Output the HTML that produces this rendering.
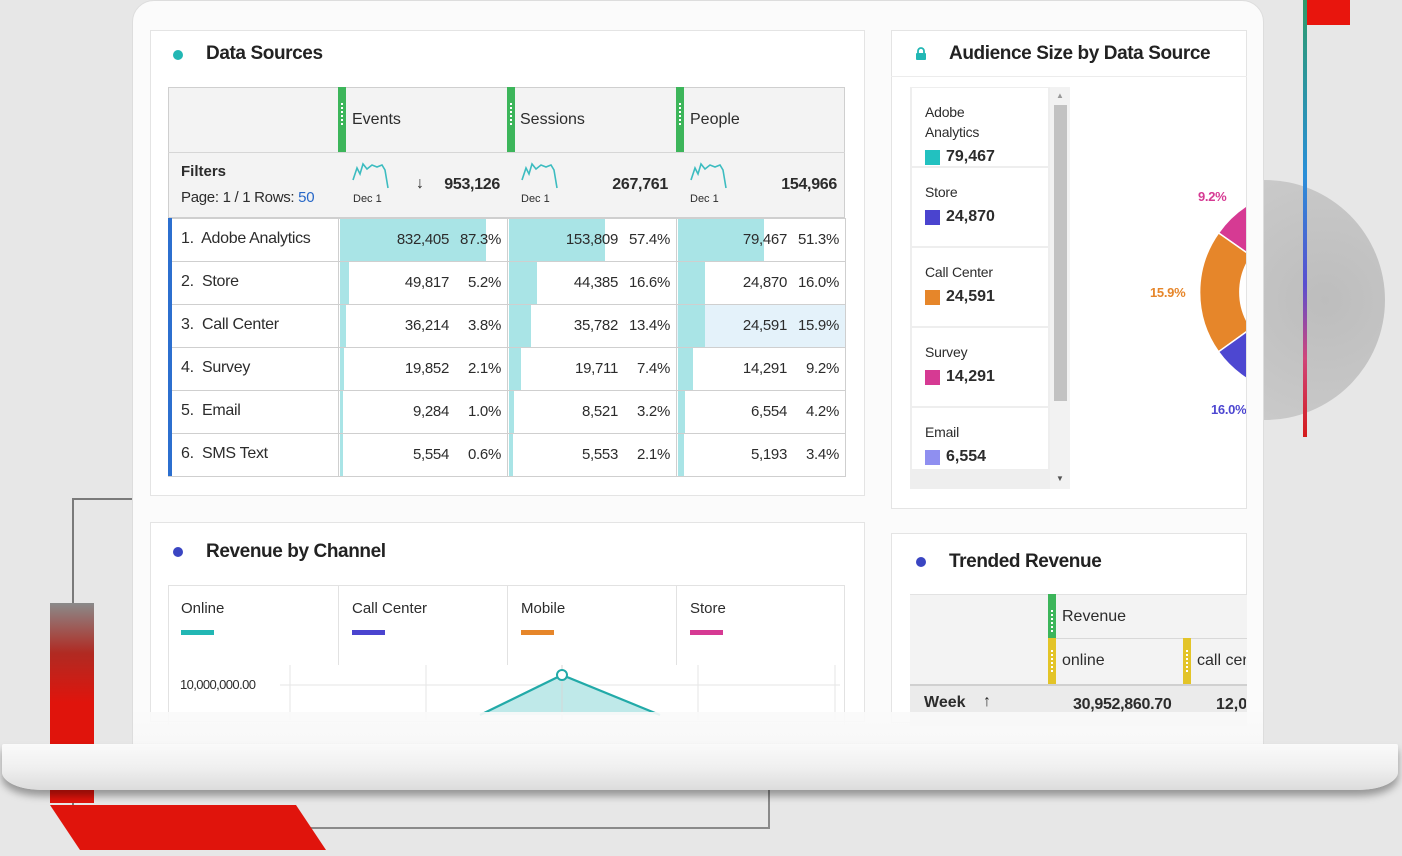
<!DOCTYPE html>
<html><head><meta charset="utf-8"><style>
*{margin:0;padding:0;box-sizing:border-box}
body{width:1402px;height:856px;background:#e7e7e7;position:relative;overflow:hidden;font-family:"Liberation Sans",sans-serif;color:#2c2c2c}
.a{position:absolute}
.t{position:absolute;white-space:nowrap}
.panel{position:absolute;background:#fff;border:1px solid #e4e4e4}
.title{position:absolute;font-size:19px;font-weight:bold;color:#222;letter-spacing:-0.4px}
.cell{position:absolute;border:1px solid #cfcfcf;background:#fff}
.num{position:absolute;font-size:15px;text-align:right;white-space:nowrap;letter-spacing:-0.3px}
.bar{position:absolute;background:#a9e4e6}
.gb{position:absolute;width:8px;background:#3cb55a}
.gb:after{content:"";position:absolute;left:3px;top:16px;width:2px;height:22px;border-left:2px dotted #fff}
.yb{position:absolute;width:8px;background:#e3c428}
.yb:after{content:"";position:absolute;left:3px;top:12px;width:2px;height:22px;border-left:2px dotted #fff}
</style></head><body>
<div class="a" style="left:1145px;top:180px;width:240px;height:240px;border-radius:50%;background:radial-gradient(circle at 75% 50%,#bdbdbd,#c9c9c9 60%,#d8d8d8)"></div>
<div class="a" style="left:1303px;top:0;width:4px;height:437px;background:linear-gradient(#2e9b6b,#2a8fd8 40%,#5a4fd0 65%,#d0467a 82%,#d41b1b)"></div>
<div class="a" style="left:1307px;top:0;width:43px;height:25px;background:#e8150d"></div>
<div class="a" style="left:72px;top:498px;width:60px;height:310px;border-left:2px solid #7a7a7a;border-top:2px solid #7a7a7a"></div>
<div class="a" style="left:50px;top:603px;width:44px;height:200px;background:linear-gradient(#8a8a8a,#b02a22 25%,#e0140c 50%,#e0140c)"></div>
<div class="a" style="left:300px;top:788px;width:470px;height:41px;border-right:2px solid #8a8a8a;border-bottom:2px solid #8a8a8a"></div>
<svg class="a" style="left:0;top:0" width="1402" height="856"><polygon points="50,805 296,805 326,850 80,850" fill="#e0140c"/></svg>
<div class="a" style="left:132px;top:0;width:1132px;height:760px;background:#fbfbfb;border-radius:22px 22px 0 0;border:1px solid #ddd"></div>
<div class="panel" style="left:150px;top:30px;width:715px;height:466px"></div>
<div class="a" style="left:173px;top:50px;width:10px;height:10px;border-radius:50%;background:#22b7b4"></div>
<div class="title" style="left:206px;top:43px">Data Sources</div>
<div class="a" style="left:168px;top:87px;width:677px;height:131px;background:#f3f3f3;border:1px solid #cfcfcf"></div>
<div class="a" style="left:168px;top:152px;width:677px;height:1px;background:#d6d6d6"></div>
<div class="a" style="left:507px;top:87px;width:1px;height:65px;background:#d6d6d6"></div>
<div class="a" style="left:676px;top:87px;width:1px;height:65px;background:#d6d6d6"></div>
<div class="gb" style="left:338px;top:87px;height:65px"></div>
<div class="gb" style="left:507px;top:87px;height:65px"></div>
<div class="gb" style="left:676px;top:87px;height:65px"></div>
<div class="t" style="left:352px;top:111px;font-size:16px">Events</div>
<div class="t" style="left:520px;top:111px;font-size:16px">Sessions</div>
<div class="t" style="left:690px;top:111px;font-size:16px">People</div>
<div class="t" style="left:181px;top:163px;font-size:15px;font-weight:bold">Filters</div>
<div class="t" style="left:181px;top:189px;font-size:15px;letter-spacing:-0.3px">Page: 1 / 1 Rows: <span style="color:#2868c8">50</span></div>
<svg class="a" style="left:350px;top:160px" width="500" height="34">
<g fill="none" stroke="#3cbcc0" stroke-width="1.6">
<path d="M3,20 L7,8 L10,14 L13,4 L17,9 L22,5 L27,7 L32,5 L35,10 L38,28"/>
<path d="M172,20 L176,8 L179,14 L182,4 L186,9 L191,5 L196,7 L201,5 L204,10 L207,28"/>
<path d="M341,20 L345,8 L348,14 L351,4 L355,9 L360,5 L365,7 L370,5 L373,10 L376,28"/>
</g></svg>
<div class="t" style="left:353px;top:193px;font-size:11px">Dec 1</div>
<div class="t" style="left:521px;top:193px;font-size:11px">Dec 1</div>
<div class="t" style="left:690px;top:193px;font-size:11px">Dec 1</div>
<div class="t" style="left:416px;top:175px;font-size:16px">↓</div>
<div class="num" style="right:902px;top:176px;font-size:16px;font-weight:bold">953,126</div>
<div class="num" style="right:734px;top:176px;font-size:16px;font-weight:bold">267,761</div>
<div class="num" style="right:565px;top:176px;font-size:16px;font-weight:bold">154,966</div>
<div id="rows"></div>
<div class="panel" style="left:891px;top:30px;width:356px;height:479px"></div>
<svg class="a" style="left:915px;top:47px" width="12" height="14"><rect x="1" y="6" width="10" height="7" rx="1" fill="#22b7b4"/><path d="M3,6 V4 a3,3 0 0 1 6,0 V6" stroke="#22b7b4" stroke-width="1.8" fill="none"/></svg>
<div class="title" style="left:949px;top:43px">Audience Size by Data Source</div>
<div class="a" style="left:891px;top:76px;width:356px;height:1px;background:#ececec"></div>
<div class="a" style="left:910px;top:87px;width:140px;height:402px;background:#eeeeee"></div>
<div class="a" style="left:1050px;top:87px;width:20px;height:402px;background:#f2f2f2"></div>
<div class="a" style="left:1054px;top:105px;width:13px;height:296px;background:#c2c2c2"></div>
<div class="t" style="left:1056px;top:91px;font-size:8px;color:#999">▲</div>
<div class="t" style="left:1056px;top:474px;font-size:8px;color:#555">▼</div>
<div id="leg"></div>
<svg class="a" style="left:0;top:0" width="1402" height="856">
<defs><clipPath id="c"><rect x="1070" y="87" width="176" height="402"/></clipPath></defs>
<g clip-path="url(#c)">
<path d="M1218.5,232.9 A103,103 0 0 1 1265,196.3 L1280,233.6 A63,63 0 0 0 1251.3,255.9 Z" fill="#d63a93" stroke="#fff" stroke-width="1.5"/>
<path d="M1218.5,351.8 A103,103 0 0 1 1218.5,232.9 L1251.3,255.9 A63,63 0 0 0 1251.3,328.3 Z" fill="#e6862a" stroke="#fff" stroke-width="1.5"/>
<path d="M1270,389.6 A103,103 0 0 1 1218.5,351.8 L1251.3,328.3 A63,63 0 0 0 1283,352 Z" fill="#4d47d1" stroke="#fff" stroke-width="1.5"/>
</g></svg>
<div class="t" style="left:1198px;top:189px;font-size:13px;color:#d63a93;font-weight:bold;letter-spacing:-0.3px">9.2%</div>
<div class="t" style="left:1150px;top:285px;font-size:13px;color:#e6862a;font-weight:bold;letter-spacing:-0.3px">15.9%</div>
<div class="t" style="left:1211px;top:402px;font-size:13px;color:#4d47d1;font-weight:bold;letter-spacing:-0.3px;width:35px;overflow:hidden">16.0%</div>
<div class="panel" style="left:150px;top:522px;width:715px;height:200px"></div>
<div class="a" style="left:173px;top:547px;width:10px;height:10px;border-radius:50%;background:#3a45c2"></div>
<div class="title" style="left:206px;top:541px">Revenue by Channel</div>
<div class="a" style="left:168px;top:585px;width:677px;height:140px;border:1px solid #e2e2e2;border-bottom:none"></div>
<div class="a" style="left:338px;top:585px;width:1px;height:80px;background:#e2e2e2"></div>
<div class="a" style="left:507px;top:585px;width:1px;height:80px;background:#e2e2e2"></div>
<div class="a" style="left:676px;top:585px;width:1px;height:80px;background:#e2e2e2"></div>
<div class="t" style="left:181px;top:600px;font-size:15px">Online</div>
<div class="t" style="left:352px;top:600px;font-size:15px">Call Center</div>
<div class="t" style="left:521px;top:600px;font-size:15px">Mobile</div>
<div class="t" style="left:690px;top:600px;font-size:15px">Store</div>
<div class="a" style="left:181px;top:630px;width:33px;height:5px;background:#22b7b4"></div>
<div class="a" style="left:352px;top:630px;width:33px;height:5px;background:#4a44cf"></div>
<div class="a" style="left:521px;top:630px;width:33px;height:5px;background:#e6862a"></div>
<div class="a" style="left:690px;top:630px;width:33px;height:5px;background:#d63a93"></div>
<div class="t" style="left:180px;top:677px;font-size:13px;letter-spacing:-0.6px">10,000,000.00</div>
<svg class="a" style="left:0;top:0" width="1402" height="856">
<g stroke="#e6e6e6" stroke-width="1"><line x1="290" y1="665" x2="290" y2="720"/><line x1="426" y1="665" x2="426" y2="720"/><line x1="698" y1="665" x2="698" y2="720"/><line x1="835" y1="665" x2="835" y2="720"/><line x1="280" y1="685" x2="840" y2="685"/></g>
<polygon points="480,715 562,675 660,715" fill="#bfe9e9"/>
<line x1="562" y1="665" x2="562" y2="720" stroke="#d6d6d6"/>
<polyline points="480,715 562,675 660,715" fill="none" stroke="#22aaa8" stroke-width="2.2"/>
<circle cx="562" cy="675" r="5" fill="#fff" stroke="#22aaa8" stroke-width="2"/>
</svg>
<div class="panel" style="left:891px;top:533px;width:356px;height:190px"></div>
<div class="a" style="left:916px;top:557px;width:10px;height:10px;border-radius:50%;background:#3a45c2"></div>
<div class="title" style="left:949px;top:551px">Trended Revenue</div>
<div class="a" style="left:910px;top:594px;width:337px;height:130px;background:#f3f3f3;border-top:1px solid #e2e2e2"></div>
<div class="a" style="left:1056px;top:638px;width:191px;height:1px;background:#d8d8d8"></div>
<div class="a" style="left:910px;top:684px;width:337px;height:2px;background:#d0d0d0"></div>
<div class="a" style="left:910px;top:686px;width:337px;height:40px;background:#ebebeb"></div>
<div class="gb" style="left:1048px;top:594px;height:44px"></div>
<div class="yb" style="left:1048px;top:638px;height:46px"></div>
<div class="yb" style="left:1183px;top:638px;height:46px"></div>
<div class="t" style="left:1062px;top:608px;font-size:16px">Revenue</div>
<div class="t" style="left:1062px;top:652px;font-size:16px">online</div>
<div class="t" style="left:1197px;top:652px;font-size:16px;width:49px;overflow:hidden">call center</div>
<div class="t" style="left:924px;top:694px;font-size:16px;font-weight:bold">Week</div>
<div class="t" style="left:983px;top:693px;font-size:16px">↑</div>
<div class="t" style="left:1073px;top:696px;font-size:16px;font-weight:bold;letter-spacing:-0.3px">30,952,860.70</div>
<div class="t" style="left:1216px;top:696px;font-size:16px;font-weight:bold;width:30px;overflow:hidden">12,043</div>
<div class="a" style="left:133px;top:712px;width:1130px;height:33px;background:linear-gradient(rgba(250,250,250,0.9),#f8f8f8)"></div>
<div class="a" style="left:2px;top:744px;width:1396px;height:46px;border-radius:2px 2px 40px 40px/2px 2px 18px 18px;background:linear-gradient(#fafafa,#f0f0f0 50%,#dcdcdc);box-shadow:0 6px 8px rgba(0,0,0,0.35)"></div>
<script>
var rows=[["Adobe Analytics","832,405","87.3","153,809","57.4","79,467","51.3"],["Store","49,817","5.2","44,385","16.6","24,870","16.0"],["Call Center","36,214","3.8","35,782","13.4","24,591","15.9"],["Survey","19,852","2.1","19,711","7.4","14,291","9.2"],["Email","9,284","1.0","8,521","3.2","6,554","4.2"],["SMS Text","5,554","0.6","5,553","2.1","5,193","3.4"]];
var h="",cols=[338,507,676];
rows.forEach(function(r,i){var y=218+i*43;
h+='<div class="cell" style="left:168px;top:'+y+'px;width:171px;height:44px"></div>';
h+='<div class="a" style="left:168px;top:'+y+'px;width:4px;height:43px;background:#2c6fcf"></div>';
h+='<div class="t" style="left:181px;top:'+(y+12)+'px;font-size:16px;letter-spacing:-0.3px">'+(i+1)+'.&nbsp; '+r[0]+'</div>';
for(var c=0;c<3;c++){var x=cols[c];var p=parseFloat(r[2+c*2]);
var bg=(i==2&&c==2)?'#e4f2fa':'#fff';
h+='<div class="cell" style="left:'+x+'px;top:'+y+'px;width:170px;height:44px;background:'+bg+'"></div>';
h+='<div class="bar" style="left:'+(x+2)+'px;top:'+(y+1)+'px;width:'+Math.max(3,p*1.67)+'px;height:42px"></div>';
h+='<div class="num" style="right:'+(1402-(x+169-58))+'px;top:'+(y+13)+'px">'+r[1+c*2]+'</div>';
h+='<div class="num" style="right:'+(1402-(x+169-6))+'px;top:'+(y+13)+'px">'+r[2+c*2]+'%</div>';}
});
document.getElementById('rows').innerHTML=h;
var L=[["Adobe<br>Analytics","79,467","#22c1c0"],["Store","24,870","#4a44cf"],["Call Center","24,591","#e6862a"],["Survey","14,291","#d63a93"],["Email","6,554","#8f8ff0"]];
var g="";L.forEach(function(l,i){var y=88+i*80;var hh=i==4?61:78;
g+='<div class="a" style="left:912px;top:'+y+'px;width:136px;height:'+hh+'px;background:#fff"></div>';
g+='<div class="t" style="left:925px;top:'+(y+14)+'px;font-size:14px;line-height:20px;letter-spacing:-0.2px">'+l[0]+'</div>';
var vy=i==0?y+60:y+40;
g+='<div class="a" style="left:925px;top:'+(vy+2)+'px;width:15px;height:15px;background:'+l[2]+'"></div>';
g+='<div class="t" style="left:946px;top:'+vy+'px;font-size:16px;font-weight:bold">'+l[1]+'</div>';});
document.getElementById('leg').innerHTML=g;
</script>
</body></html>
